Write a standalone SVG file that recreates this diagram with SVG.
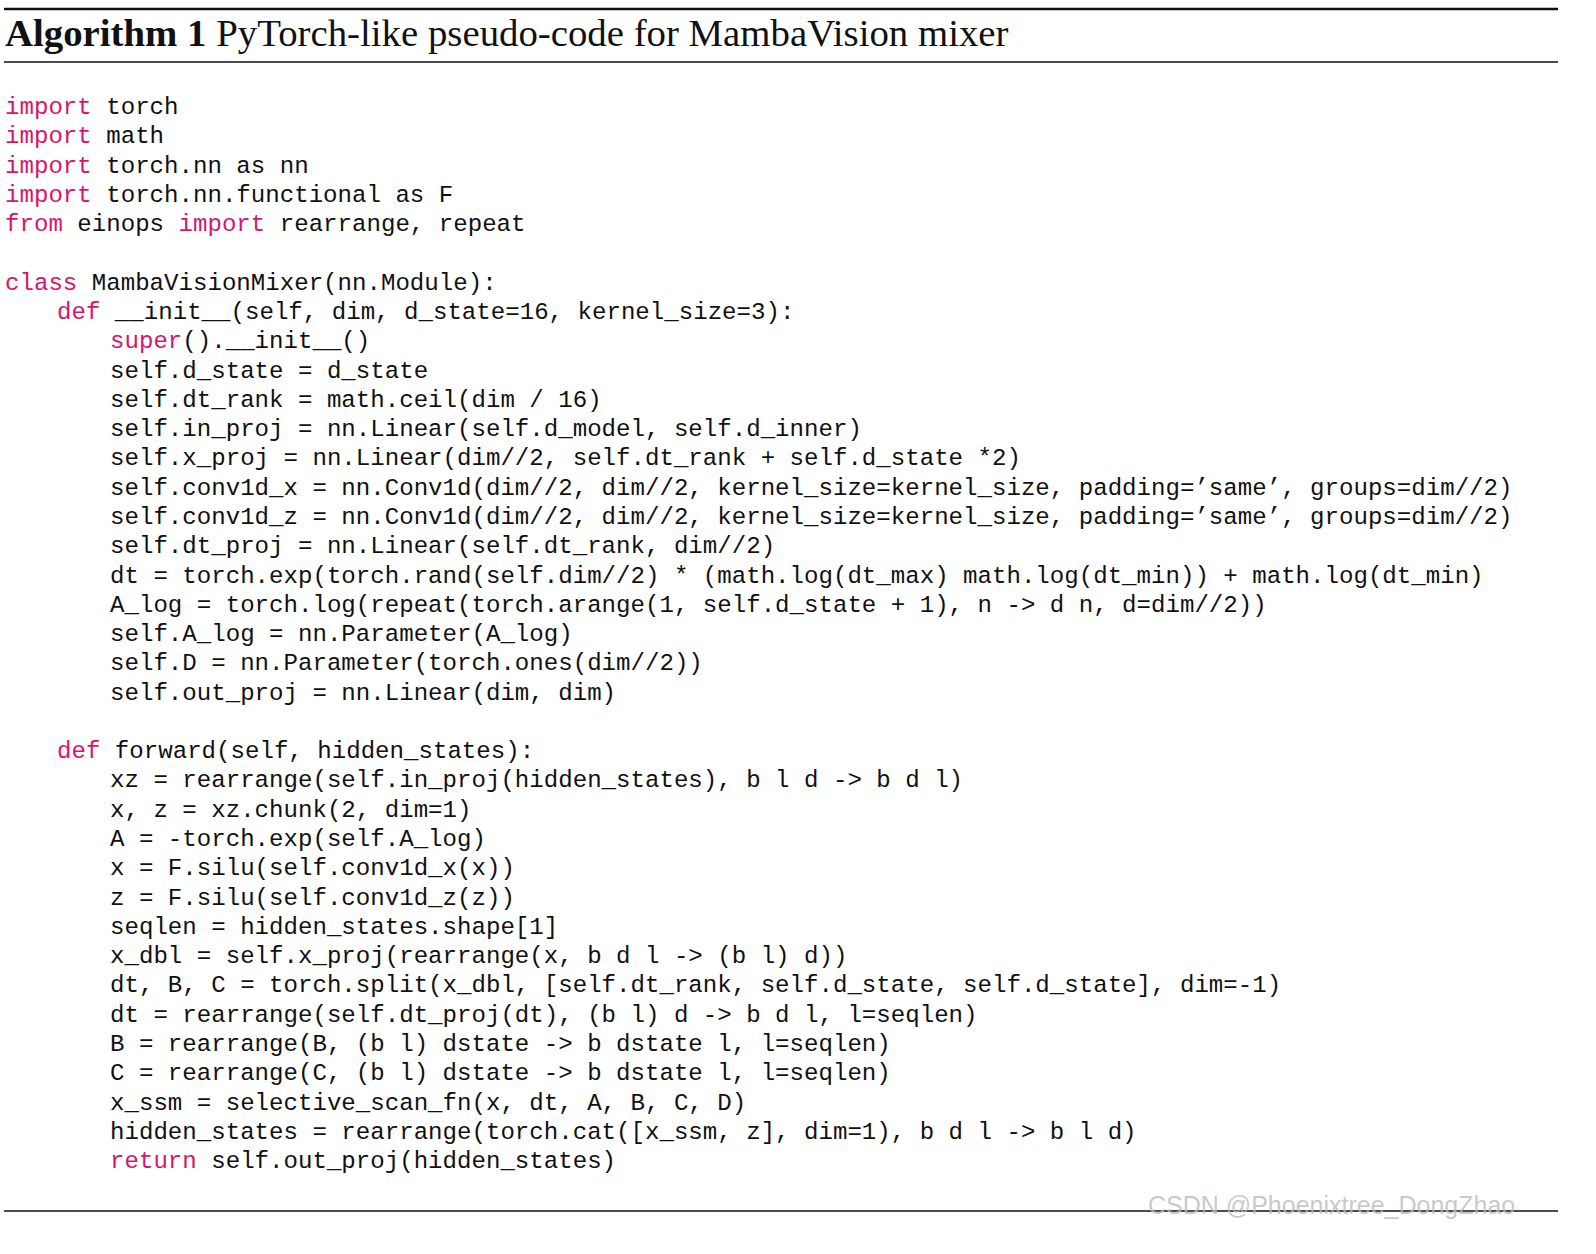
<svg xmlns="http://www.w3.org/2000/svg" width="1596" height="1254" viewBox="0 0 1596 1254">
<style>
.c{font-family:"Liberation Mono",monospace;font-size:24.1px;fill:#111;white-space:pre}
.k{fill:#d8146f}
.t{font-family:"Liberation Serif",serif;font-size:38.8px;fill:#111}
</style>
<rect width="1596" height="1254" fill="#fff"/>
<line x1="4" y1="9" x2="1558" y2="9" stroke="#111" stroke-width="2.5"/>
<text class="t" x="5" y="46"><tspan font-weight="bold">Algorithm 1</tspan> PyTorch-like pseudo-code for MambaVision mixer</text>
<line x1="4" y1="62" x2="1558" y2="62" stroke="#111" stroke-width="1.3"/>
<g class="c">
<text x="5" y="114"><tspan class="k">import</tspan> torch</text>
<text x="5" y="143.3"><tspan class="k">import</tspan> math</text>
<text x="5" y="172.6"><tspan class="k">import</tspan> torch.nn as nn</text>
<text x="5" y="201.8"><tspan class="k">import</tspan> torch.nn.functional as F</text>
<text x="5" y="231.1"><tspan class="k">from</tspan> einops <tspan class="k">import</tspan> rearrange, repeat</text>
<text x="5" y="289.7"><tspan class="k">class</tspan> MambaVisionMixer(nn.Module):</text>
<text x="57" y="319"><tspan class="k">def</tspan> __init__(self, dim, d_state=16, kernel_size=3):</text>
<text x="110" y="348.2"><tspan class="k">super</tspan>().__init__()</text>
<text x="110" y="377.5">self.d_state = d_state</text>
<text x="110" y="406.8">self.dt_rank = math.ceil(dim / 16)</text>
<text x="110" y="436.1">self.in_proj = nn.Linear(self.d_model, self.d_inner)</text>
<text x="110" y="465.4">self.x_proj = nn.Linear(dim//2, self.dt_rank + self.d_state *2)</text>
<text x="110" y="494.6">self.conv1d_x = nn.Conv1d(dim//2, dim//2, kernel_size=kernel_size, padding=’same’, groups=dim//2)</text>
<text x="110" y="523.9">self.conv1d_z = nn.Conv1d(dim//2, dim//2, kernel_size=kernel_size, padding=’same’, groups=dim//2)</text>
<text x="110" y="553.2">self.dt_proj = nn.Linear(self.dt_rank, dim//2)</text>
<text x="110" y="582.5">dt = torch.exp(torch.rand(self.dim//2) * (math.log(dt_max) math.log(dt_min)) + math.log(dt_min)</text>
<text x="110" y="611.8">A_log = torch.log(repeat(torch.arange(1, self.d_state + 1), n -> d n, d=dim//2))</text>
<text x="110" y="641">self.A_log = nn.Parameter(A_log)</text>
<text x="110" y="670.3">self.D = nn.Parameter(torch.ones(dim//2))</text>
<text x="110" y="699.6">self.out_proj = nn.Linear(dim, dim)</text>
<text x="57" y="758.2"><tspan class="k">def</tspan> forward(self, hidden_states):</text>
<text x="110" y="787.4">xz = rearrange(self.in_proj(hidden_states), b l d -> b d l)</text>
<text x="110" y="816.7">x, z = xz.chunk(2, dim=1)</text>
<text x="110" y="846">A = -torch.exp(self.A_log)</text>
<text x="110" y="875.3">x = F.silu(self.conv1d_x(x))</text>
<text x="110" y="904.6">z = F.silu(self.conv1d_z(z))</text>
<text x="110" y="933.8">seqlen = hidden_states.shape[1]</text>
<text x="110" y="963.1">x_dbl = self.x_proj(rearrange(x, b d l -> (b l) d))</text>
<text x="110" y="992.4">dt, B, C = torch.split(x_dbl, [self.dt_rank, self.d_state, self.d_state], dim=-1)</text>
<text x="110" y="1021.7">dt = rearrange(self.dt_proj(dt), (b l) d -> b d l, l=seqlen)</text>
<text x="110" y="1051">B = rearrange(B, (b l) dstate -> b dstate l, l=seqlen)</text>
<text x="110" y="1080.2">C = rearrange(C, (b l) dstate -> b dstate l, l=seqlen)</text>
<text x="110" y="1109.5">x_ssm = selective_scan_fn(x, dt, A, B, C, D)</text>
<text x="110" y="1138.8">hidden_states = rearrange(torch.cat([x_ssm, z], dim=1), b d l -> b l d)</text>
<text x="110" y="1168.1"><tspan class="k">return</tspan> self.out_proj(hidden_states)</text>
</g>
<line x1="4" y1="1211" x2="1558" y2="1211" stroke="#111" stroke-width="1.3"/>
<text x="1148" y="1214" font-family="Liberation Sans,sans-serif" font-size="25" fill="#bbb" fill-opacity="0.8">CSDN @Phoenixtree_DongZhao</text>
</svg>
